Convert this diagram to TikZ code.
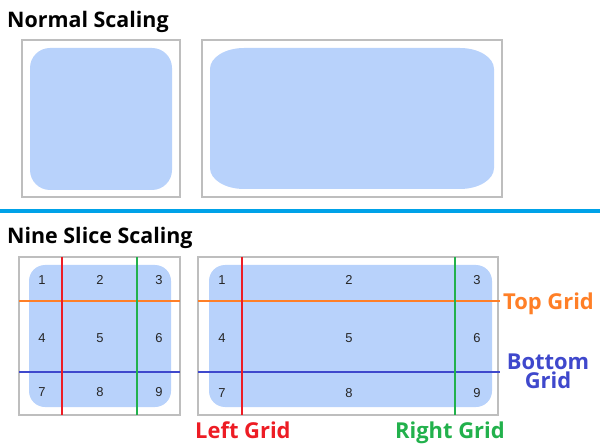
\documentclass[tikz,border=0pt]{standalone}
\usepackage{fontspec}
\setmainfont{Open Sans}
\newfontfamily\numfont{Liberation Sans}
\definecolor{slicefill}{HTML}{B8D2FB}
\definecolor{framegray}{HTML}{BEBEBE}
\definecolor{sepblue}{HTML}{00A2E8}
\definecolor{gridred}{HTML}{ED1C24}
\definecolor{gridgreen}{HTML}{22B14C}
\definecolor{gridorange}{HTML}{FF7F27}
\definecolor{gridblue}{HTML}{3F48CC}
\tikzset{
  frame/.style={draw=framegray, line width=1.5bp},
  blob/.style={fill=slicefill},
  title/.style={font=\bfseries\fontsize{21.5}{24}\selectfont, anchor=base west, inner sep=0},
  num/.style={font=\numfont\fontsize{13}{15}\selectfont, text=black!85, inner sep=0},
  glabel/.style={font=\bfseries\fontsize{22}{19}\selectfont, inner sep=0},
  gline/.style={line width=1.5bp},
}
\begin{document}
\begin{tikzpicture}[x=1bp,y=-1bp]
\useasboundingbox (0,0) rectangle (600,447);
% titles
\node[title] (t1) at (7,28) {Normal Scaling};
\node[title] (t2) at (7,244) {Nine Slice Scaling};
% separator
\fill[sepblue] (0,209.5) rectangle (600,213.5);
% normal scaling box 1
\draw[frame] (22,40) rectangle (180,197);
\fill[blob, rounded corners=20bp] (30,48) rectangle (172,190);
% normal scaling box 2 (stretched corners)
\draw[frame] (202,40) rectangle (502,197);
\fill[blob] (244,48) -- (460,48)
  .. controls (478.8,48) and (494,57.4) .. (494,69)
  -- (494,168)
  .. controls (494,179.6) and (478.8,189) .. (460,189)
  -- (244,189)
  .. controls (225.2,189) and (210,179.6) .. (210,168)
  -- (210,69)
  .. controls (210,57.4) and (225.2,48) .. (244,48) -- cycle;
% nine slice box 1
\draw[frame] (19,257) rectangle (180,415);
\fill[blob, rounded corners=16bp] (29,265) rectangle (171,407);
\draw[gline, gridorange] (19,301) -- (180,301);
\draw[gline, gridblue] (19,372) -- (180,372);
\draw[gline, gridred] (62,257) -- (62,415);
\draw[gline, gridgreen] (137,257) -- (137,415);
\node[num] (a1) at (42,280) {1};
\node[num] (a2) at (100,280) {2};
\node[num] (a3) at (159,280) {3};
\node[num] (a4) at (42,338) {4};
\node[num] (a5) at (100,338) {5};
\node[num] (a6) at (159,338) {6};
\node[num] (a7) at (42,392) {7};
\node[num] (a8) at (100,392) {8};
\node[num] (a9) at (159,392) {9};
% nine slice box 2
\draw[frame] (198,257) rectangle (498,415);
\fill[blob, rounded corners=16bp] (209,265) rectangle (492,407);
\draw[gline, gridorange] (198,301) -- (500,301);
\draw[gline, gridblue] (198,372) -- (500,372);
\draw[gline, gridred] (242,257) -- (242,415);
\draw[gline, gridgreen] (455,257) -- (455,415);
\node[num] (b1) at (222,280) {1};
\node[num] (b2) at (349,280) {2};
\node[num] (b3) at (477,280) {3};
\node[num] (b4) at (222,338) {4};
\node[num] (b5) at (349,338) {5};
\node[num] (b6) at (477,338) {6};
\node[num] (b7) at (222,393) {7};
\node[num] (b8) at (349,393) {8};
\node[num] (b9) at (477,393) {9};
% grid labels
\node[glabel, text=gridorange, anchor=base west] (ltop) at (503,309) {Top Grid};
\node[glabel, text=gridblue, anchor=base, align=center] (lbot) at (548,388) {Bottom\\Grid};
\node[glabel, text=gridred, anchor=base west] (lleft) at (195,438) {Left Grid};
\node[glabel, text=gridgreen, anchor=base west] (lright) at (395,438) {Right Grid};
\end{tikzpicture}
\end{document}
